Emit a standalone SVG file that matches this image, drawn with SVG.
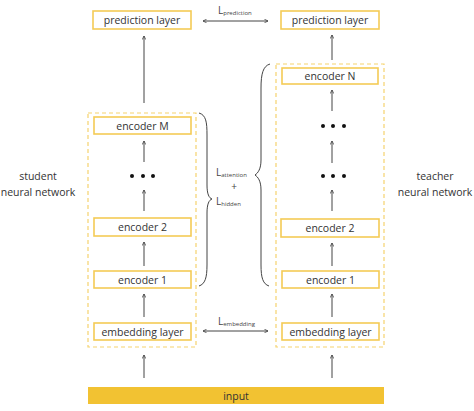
<svg xmlns="http://www.w3.org/2000/svg" width="474" height="411" viewBox="0 0 474 411">
<defs>
<marker id="ah" viewBox="0 0 10 10" refX="9" refY="5" markerWidth="4.5" markerHeight="4.5" orient="auto-start-reverse" markerUnits="userSpaceOnUse">
<path d="M1,1 L9,5 L1,9" fill="none" stroke="#444" stroke-width="1.8"/>
</marker>
<style>
.box{fill:#fff;stroke:#F4CB55;stroke-width:1.6}
.cont{fill:none;stroke:#F6D36E;stroke-width:1.2;stroke-dasharray:4 3}
.t{font-family:"Open Sans","Liberation Sans",sans-serif;font-size:10.5px;fill:#333;text-anchor:middle}
.lab{font-family:"Open Sans","Liberation Sans",sans-serif;font-size:10px;fill:#444}
.sub{font-size:6px}
.ln{stroke:#444;stroke-width:1;fill:none}
.dot{fill:#111}
</style>
</defs>
<rect width="474" height="411" fill="#fff"/>

<g id="student-container"><rect class="cont" x="88" y="113" width="108" height="234"/></g>
<g id="teacher-container"><rect class="cont" x="276" y="64" width="108" height="283"/></g>

<g id="student-pred"><rect class="box" x="93" y="11" width="98" height="18"/><text class="t" x="142" y="24">prediction layer</text></g>
<g id="teacher-pred"><rect class="box" x="281" y="11" width="98" height="18"/><text class="t" x="330" y="24">prediction layer</text></g>

<g id="student-encM"><rect class="box" x="94" y="117" width="97" height="17"/><text class="t" x="142.5" y="129.5">encoder M</text></g>
<g id="student-dots"><circle class="dot" cx="132" cy="176" r="2"/><circle class="dot" cx="143" cy="176" r="2"/><circle class="dot" cx="153" cy="176" r="2"/></g>
<g id="student-enc2"><rect class="box" x="94" y="218" width="97" height="18"/><text class="t" x="142.5" y="231">encoder 2</text></g>
<g id="student-enc1"><rect class="box" x="94" y="271" width="97" height="17"/><text class="t" x="142.5" y="283.5">encoder 1</text></g>
<g id="student-emb"><rect class="box" x="94" y="323" width="97" height="17"/><text class="t" x="142.5" y="335.5">embedding layer</text></g>

<g id="teacher-encN"><rect class="box" x="282" y="68" width="96" height="16"/><text class="t" x="330" y="80">encoder N</text></g>
<g id="teacher-dots1"><circle class="dot" cx="323" cy="126" r="2"/><circle class="dot" cx="333" cy="126" r="2"/><circle class="dot" cx="344" cy="126" r="2"/></g>
<g id="teacher-dots2"><circle class="dot" cx="323" cy="176" r="2"/><circle class="dot" cx="333" cy="176" r="2"/><circle class="dot" cx="344" cy="176" r="2"/></g>
<g id="teacher-enc2"><rect class="box" x="281" y="219" width="98" height="18"/><text class="t" x="330" y="232">encoder 2</text></g>
<g id="teacher-enc1"><rect class="box" x="282" y="271" width="97" height="17"/><text class="t" x="330.5" y="283.5">encoder 1</text></g>
<g id="teacher-emb"><rect class="box" x="282" y="323" width="97" height="17"/><text class="t" x="330.5" y="335.5">embedding layer</text></g>

<g id="input"><rect x="88" y="387" width="296" height="17" fill="#F2C232"/><text class="t" x="236" y="399.5" fill="#222">input</text></g>

<g id="student-label"><text class="t" x="38" y="180">student</text><text class="t" x="38" y="196">neural network</text></g>
<g id="teacher-label"><text class="t" x="435" y="180">teacher</text><text class="t" x="435" y="196">neural network</text></g>

<g id="connectors">
<line class="ln" x1="144" y1="103" x2="144" y2="36" marker-end="url(#ah)"/>
<line class="ln" x1="144" y1="162" x2="144" y2="141" marker-end="url(#ah)"/>
<line class="ln" x1="144" y1="211" x2="144" y2="190" marker-end="url(#ah)"/>
<line class="ln" x1="144" y1="266" x2="144" y2="242" marker-end="url(#ah)"/>
<line class="ln" x1="144" y1="317" x2="144" y2="294" marker-end="url(#ah)"/>
<line class="ln" x1="144" y1="378" x2="144" y2="355" marker-end="url(#ah)"/>

<line class="ln" x1="332" y1="60" x2="332" y2="35" marker-end="url(#ah)"/>
<line class="ln" x1="332" y1="111" x2="332" y2="90" marker-end="url(#ah)"/>
<line class="ln" x1="332" y1="163" x2="332" y2="141" marker-end="url(#ah)"/>
<line class="ln" x1="332" y1="211" x2="332" y2="190" marker-end="url(#ah)"/>
<line class="ln" x1="332" y1="266" x2="332" y2="243" marker-end="url(#ah)"/>
<line class="ln" x1="332" y1="317" x2="332" y2="294" marker-end="url(#ah)"/>
<line class="ln" x1="332" y1="378" x2="332" y2="355" marker-end="url(#ah)"/>

<line class="ln" x1="203" y1="21" x2="268" y2="21" marker-start="url(#ah)" marker-end="url(#ah)"/>
<line class="ln" x1="203" y1="331" x2="268" y2="331" marker-start="url(#ah)" marker-end="url(#ah)"/>

<path class="ln" d="M199,113 C206,115 207,122 207,135 L207,185 C207,194 209,198 212,199 C209,200 207,204 207,213 L207,265 C207,278 205,284 199,286"/>
<path class="ln" d="M270,64 C263,66 261,74 261,88 L261,160 C261,169 258,173 255,175 C258,177 261,181 261,190 L261,265 C261,278 263,284 269,286"/>
</g>

<g id="loss-labels">
<text class="lab" x="218" y="14">L<tspan class="sub" dy="1">prediction</tspan></text>
<text class="lab" x="216" y="176">L<tspan class="sub" dy="1">attention</tspan></text>
<text class="lab" x="234" y="190" text-anchor="middle" font-size="7">+</text>
<text class="lab" x="216" y="205">L<tspan class="sub" dy="1">hidden</tspan></text>
<text class="lab" x="218" y="325">L<tspan class="sub" dy="1">embedding</tspan></text>
</g>
</svg>
